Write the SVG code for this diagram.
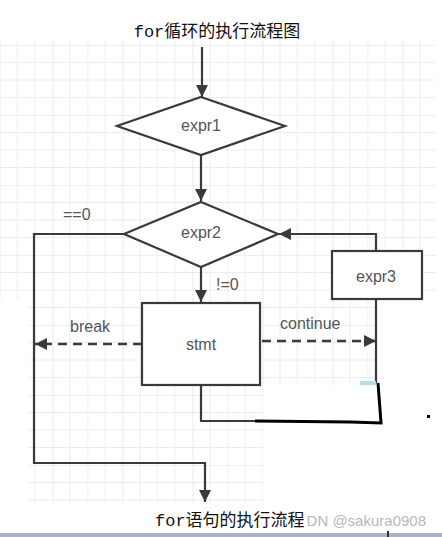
<svg xmlns="http://www.w3.org/2000/svg" width="442" height="537" viewBox="0 0 442 537">
<style>
.ln{fill:none;stroke:#3a3a3a;stroke-width:2.2}
.dash{fill:none;stroke:#3a3a3a;stroke-width:2.5;stroke-dasharray:9,6}
.shape{fill:#fff;stroke:#3a3a3a;stroke-width:2.2}
.lbl{font-family:"Liberation Sans","Noto Sans",Arial,sans-serif;font-size:16px;fill:#555}
.title{font-family:"Liberation Mono","Noto Sans CJK SC",monospace;font-size:17px;fill:#111}
.blk{fill:none;stroke:#000;stroke-width:3}
</style>
<defs>
<pattern id="grid" patternUnits="userSpaceOnUse" x="-17.5" y="45" width="70" height="70">
<path d="M17.5 0V70M35 0V70M52.5 0V70M0 17.5H70M0 35H70M0 52.5H70" stroke="#ececec" stroke-width="1" fill="none"/>
<path d="M0 0V70M0 0H70" stroke="#dedede" stroke-width="1.2" fill="none"/>
</pattern>
<clipPath id="gclip"><path d="M0 40H436V300H377V385H263V503H28V300H0Z"/></clipPath>
<marker id="ah" viewBox="0 0 12 12" refX="12" refY="6" markerWidth="12" markerHeight="12" markerUnits="userSpaceOnUse" orient="auto">
<path d="M0 0L12 6L0 12Z" fill="#3a3a3a"/>
</marker>
</defs>
<rect width="442" height="537" fill="#fff"/>
<rect x="0" y="40" width="436" height="463" fill="url(#grid)" clip-path="url(#gclip)"/>

<g id="connectors">
<path class="ln" d="M202 47V97" marker-end="url(#ah)"/>
<path class="ln" d="M201 155V201" marker-end="url(#ah)"/>
<path class="ln" d="M201 267V302" marker-end="url(#ah)"/>
<path class="ln" d="M124 234H34V463H205V502" marker-end="url(#ah)"/>
<path class="ln" d="M376 251V234H279" marker-end="url(#ah)"/>
<path class="dash" d="M142 344H35" marker-end="url(#ah)"/>
<path class="dash" d="M262 341H376" marker-end="url(#ah)"/>
<path class="ln" d="M376 299V383"/>
<path class="ln" d="M201 385V421H256"/>
<path class="blk" d="M255 421L350 422L381 423L378 383"/>
<rect x="360" y="381" width="16" height="4" fill="#b3dcec"/>
<rect x="427" y="415" width="3" height="3" fill="#000"/>
</g>

<g id="title"><text class="title" x="217" y="37" text-anchor="middle">for循环的执行流程图</text></g>

<g id="expr1">
<polygon class="shape" points="201,97 285,126 201,155 117,126"/>
<text class="lbl" x="201" y="131" text-anchor="middle">expr1</text>
</g>

<g id="expr2">
<polygon class="shape" points="201,202 278,234 201,267 124,234"/>
<text class="lbl" x="201" y="238" text-anchor="middle">expr2</text>
</g>

<g id="stmt">
<rect class="shape" x="142" y="303" width="118" height="82"/>
<text class="lbl" x="201" y="350" text-anchor="middle">stmt</text>
</g>

<g id="expr3">
<rect class="shape" x="332" y="251" width="90" height="48"/>
<text class="lbl" x="376" y="282" text-anchor="middle">expr3</text>
</g>

<g id="labels">
<text class="lbl" x="63" y="220">==0</text>
<text class="lbl" x="216" y="290">!=0</text>
<text class="lbl" x="70" y="332">break</text>
<text class="lbl" x="280" y="329">continue</text>
</g>

<g id="footer">
<text x="426" y="526" text-anchor="end" font-family="Liberation Sans,Arial,sans-serif" font-size="15" fill="#b8b8b8">DN @sakura0908</text>
<text class="title" x="155" y="526">for语句的执行流程</text>
<rect x="0" y="533" width="442" height="4" fill="#aab4c4"/>
<rect x="387" y="531" width="2" height="6" fill="#333"/>
</g>
</svg>
